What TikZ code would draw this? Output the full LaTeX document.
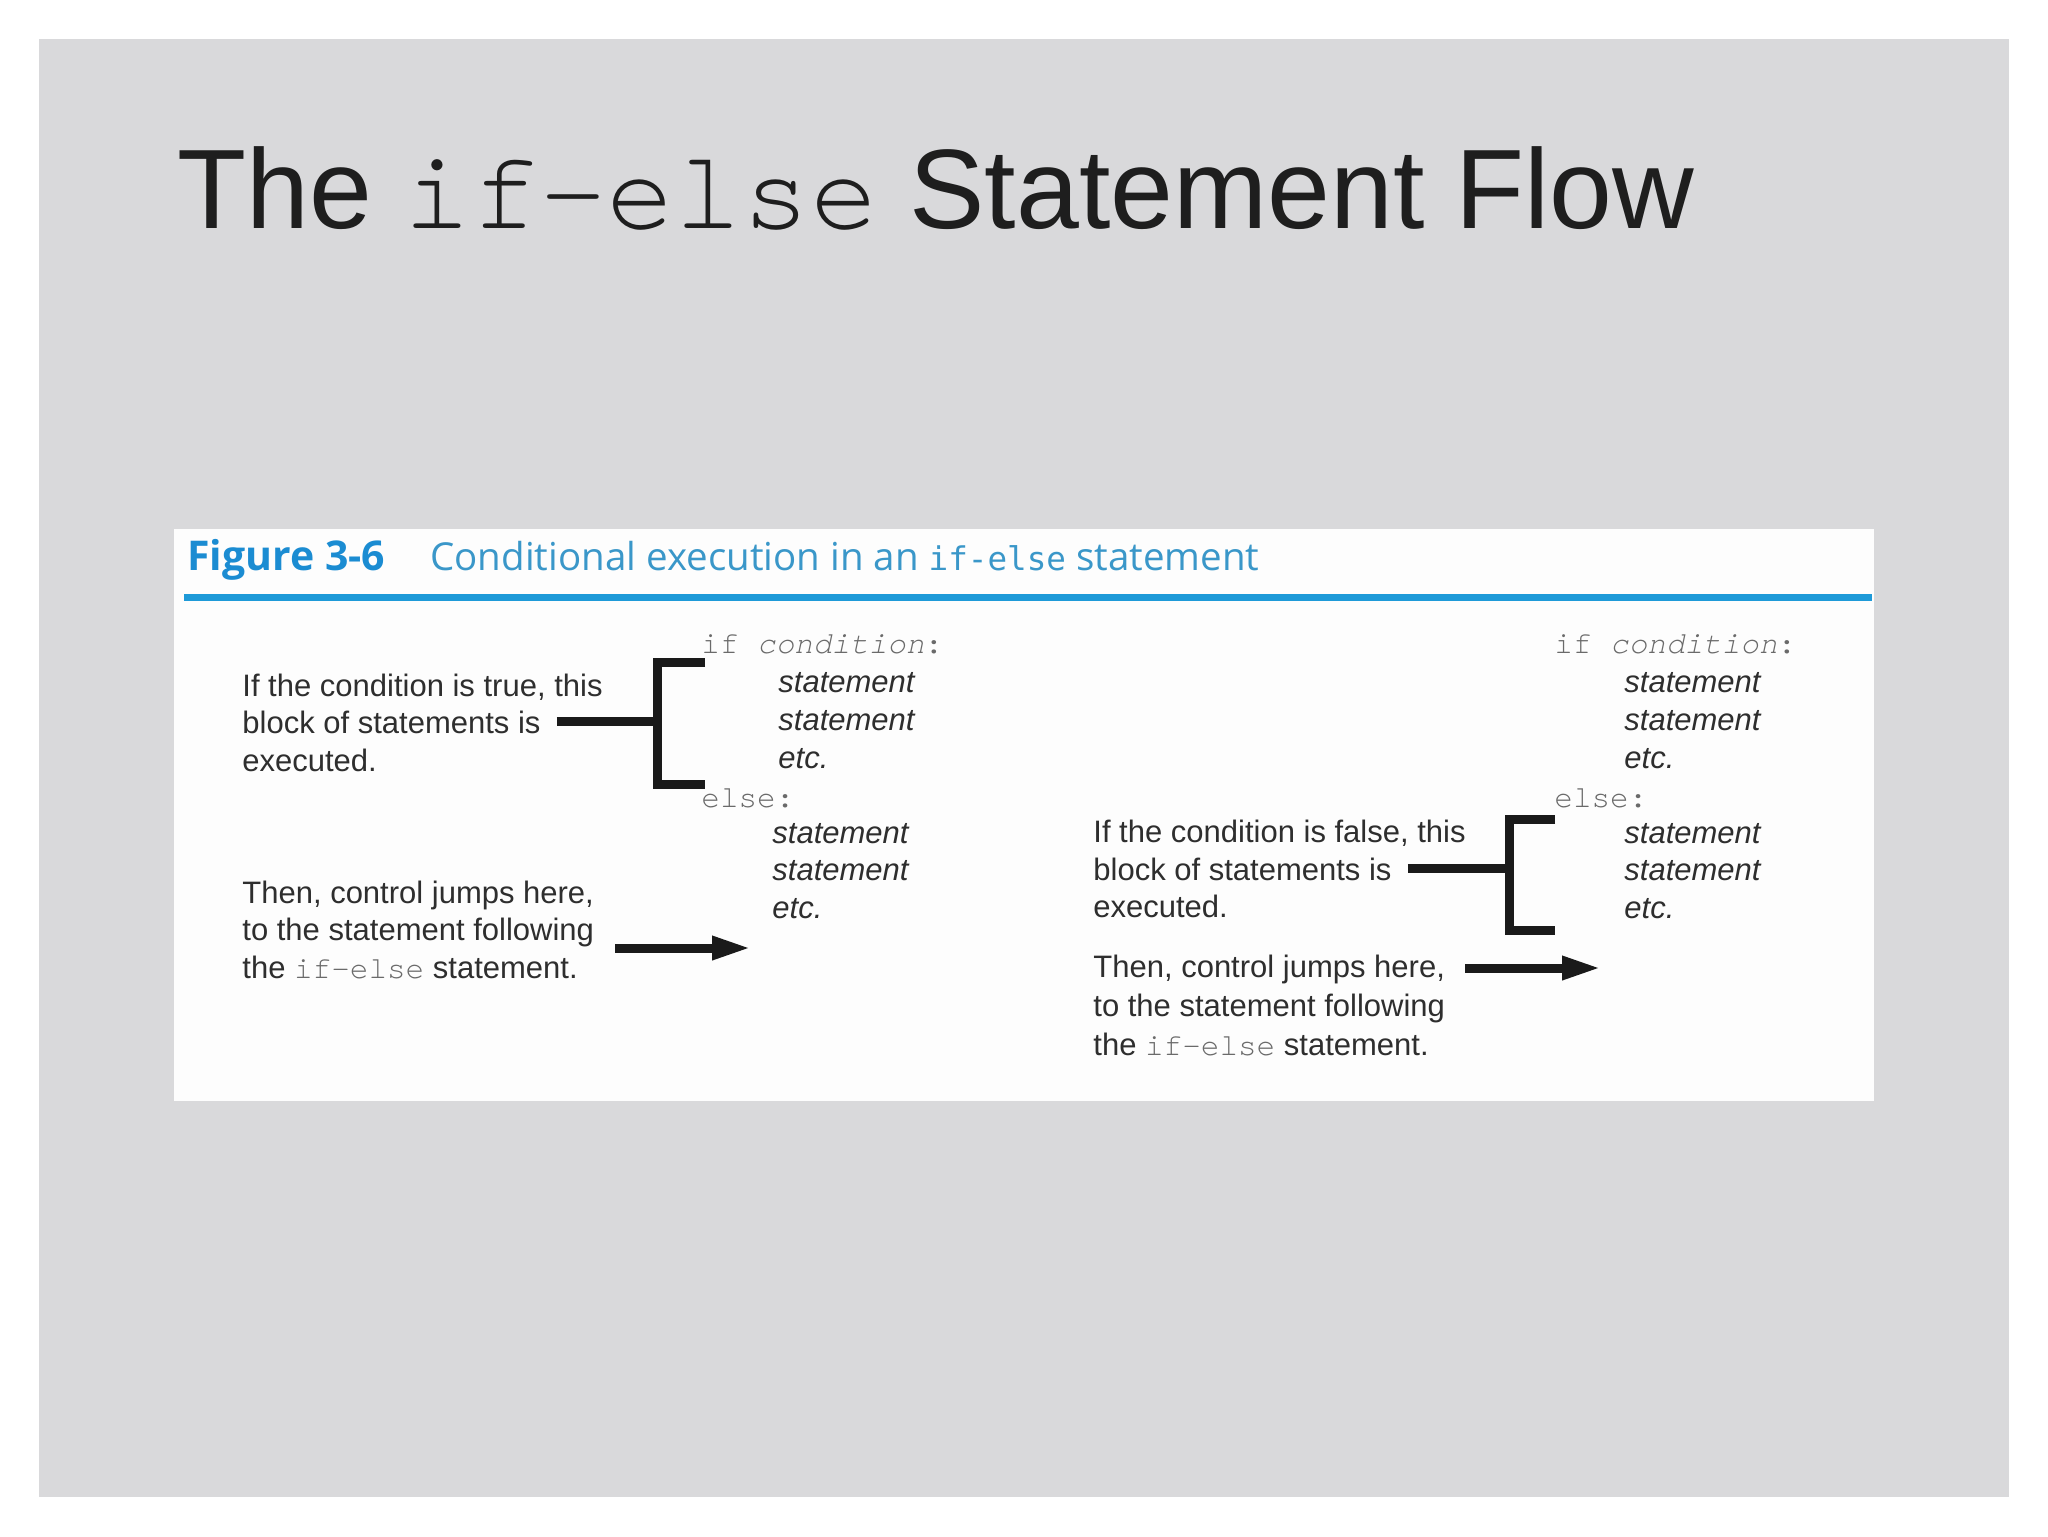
\documentclass[tikz,border=0pt]{standalone}
\usepackage{fontspec}
\setmainfont{Liberation Sans}
\newfontfamily\monof{texgyrecursor}[Extension=.otf, UprightFont=*-regular, ItalicFont=*-italic, BoldFont=*-bold, BoldItalicFont=*-bolditalic]
\newfontfamily\capf{Open Sans}
\newfontfamily\capmono{DejaVu Sans Mono}
\usetikzlibrary{arrows.meta}
\definecolor{panel}{HTML}{D9D9DB}
\definecolor{boxc}{HTML}{FDFDFD}
\definecolor{capblue}{HTML}{1B8CD2}
\definecolor{capblue2}{HTML}{3A97C9}
\definecolor{rulec}{HTML}{1E9AD8}
\definecolor{bodyc}{HTML}{2E2E2E}
\definecolor{codec}{HTML}{6A6A6A}
\definecolor{titlec}{HTML}{1E1E1E}
\definecolor{inkc}{HTML}{1A1A1A}
\begin{document}
\begin{tikzpicture}[x=0.5pt,y=-0.5pt,
  txt/.style={anchor=base west, inner sep=0pt, font=\fontsize{15.5}{19}\selectfont, text=bodyc},
  codet/.style={anchor=base west, inner sep=0pt, font=\fontsize{15.5}{19}\selectfont\monof, text=codec},
  stmt/.style={anchor=base west, inner sep=0pt, font=\fontsize{15.5}{19}\selectfont\itshape, text=bodyc},
  brk/.style={line width=4.5pt, draw=inkc, line join=miter},
  arr/.style={line width=4.5pt, draw=inkc, -{Triangle[length=19.5pt,width=11pt]}},
]
\useasboundingbox (0,0) rectangle (2048,1536);
\fill[white] (0,0) rectangle (2048,1536);
\fill[panel] (39,39) rectangle (2009,1497);
\fill[boxc] (174,529) rectangle (1874,1101);

% title
\node[anchor=base west, inner sep=0pt, font=\fontsize{56.5}{60}\selectfont, text=titlec] (title) at (177,228)
  {The {\monof if-else} Statement Flow};

% caption
\node[anchor=base west, inner sep=0pt, font=\capf\bfseries\fontsize{20.5}{24}\selectfont, text=capblue] (fig) at (187,570) {Figure 3-6};
\node[anchor=base west, inner sep=0pt, font=\capf\fontsize{19.25}{23}\selectfont, text=capblue2] (capt) at (430,570)
  {Conditional execution in an {\capmono\fontsize{16.3}{20}\selectfont if-else} statement};
\draw[rulec, line width=3.5pt] (184,597) -- (1872,597);

% left code
\node[codet] (lif) at (701,653) {if \textit{condition}:};
\node[stmt] (ls1) at (778,692) {statement};
\node[stmt] (ls2) at (778,730) {statement};
\node[stmt] (ls3) at (778,768) {etc.};
\node[codet] (lelse) at (701,807) {else:};
\node[stmt] (ls4) at (772,843) {statement};
\node[stmt] (ls5) at (772,880) {statement};
\node[stmt] (ls6) at (772,918) {etc.};

% left notes
\node[txt] (t1a) at (242,696) {If the condition is true, this};
\node[txt] (t1b) at (242,733) {block of statements is};
\node[txt] (t1c) at (242,771) {executed.};
\node[txt] (t2a) at (242,903) {Then, control jumps here,};
\node[txt] (t2b) at (242,940) {to the statement following};
\node[txt] (t2c) at (242,978) {the {\monof\color{codec}if-else} statement.};

% right code
\node[codet] (rif) at (1554,653) {if \textit{condition}:};
\node[stmt] (rs1) at (1624,692) {statement};
\node[stmt] (rs2) at (1624,730) {statement};
\node[stmt] (rs3) at (1624,768) {etc.};
\node[codet] (relse) at (1554,807) {else:};
\node[stmt] (rs4) at (1624,843) {statement};
\node[stmt] (rs5) at (1624,880) {statement};
\node[stmt] (rs6) at (1624,918) {etc.};

% right notes
\node[txt] (t3a) at (1093,842) {If the condition is false, this};
\node[txt] (t3b) at (1093,880) {block of statements is};
\node[txt] (t3c) at (1093,917) {executed.};
\node[txt] (t4a) at (1093,977) {Then, control jumps here,};
\node[txt] (t4b) at (1093,1016) {to the statement following};
\node[txt] (t4c) at (1093,1055) {the {\monof\color{codec}if-else} statement.};

% brackets
\coordinate (b1t) at (705,662);
\coordinate (b1b) at (705,784);
\coordinate (b1v) at (657,725);
\draw[brk] (b1t) -- (b1t -| b1v) -- (b1b -| b1v) -- (b1b);
\draw[brk] ([xshift=8pt]t1b.east) -- (t1b.east -| b1v);

\coordinate (b2t) at (1555,819);
\coordinate (b2b) at (1555,930);
\coordinate (b2v) at (1509,874);
\draw[brk] (b2t) -- (b2t -| b2v) -- (b2b -| b2v) -- (b2b);
\draw[brk] ([xshift=8pt]t3b.east) -- (t3b.east -| b2v);

% arrows
\coordinate (a1s) at (615,948);
\coordinate (a1e) at (751,948);
\draw[arr] (a1s) -- (a1e);
\coordinate (a2s) at (1465,968);
\coordinate (a2e) at (1601,968);
\draw[arr] (a2s) -- (a2e);
\end{tikzpicture}
\end{document}
